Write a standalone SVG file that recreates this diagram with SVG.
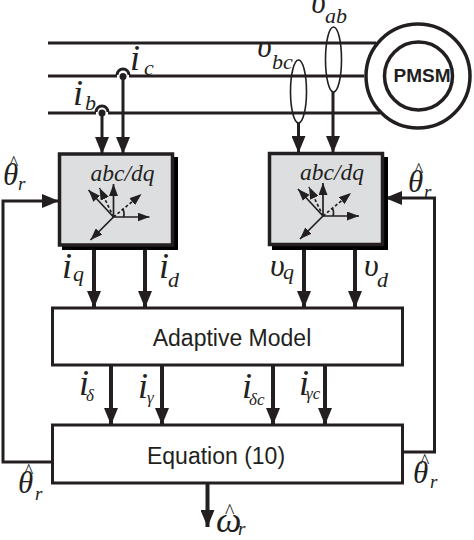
<svg xmlns="http://www.w3.org/2000/svg" width="474" height="540" viewBox="0 0 474 540">
<style>
.w{fill:none;stroke:#231f20;stroke-width:3}
.t{fill:none;stroke:#231f20;stroke-width:4}
.ax{fill:none;stroke:#231f20;stroke-width:1.7}
.d{stroke-dasharray:3 2.2}
.h{fill:#231f20}
.box{fill:#fff;stroke:#231f20;stroke-width:3}
.g{fill:#dcdee0;stroke:#231f20;stroke-width:3.5}
.s{fill:#000}
.e{fill:none;stroke:#231f20;stroke-width:1.6}
text{font-family:"Liberation Serif",serif;font-style:italic;fill:#231f20}
.b{font-size:36px}.u{font-size:32px}.th{font-size:31px}.m{font-size:22px}.r{font-size:19px}.n{font-size:17px}.abc{font-size:23.500px}
.hat{font-size:20px;font-style:normal}
.l{font-family:"Liberation Sans",sans-serif;font-style:normal;font-size:23px}
</style>
<defs>
<marker id="ah" markerUnits="userSpaceOnUse" markerWidth="17" markerHeight="14" refX="17" refY="7" orient="auto" viewBox="0 0 17 14"><path d="M0 0L17 7L0 14Z" class="h"/></marker>
<marker id="as" markerUnits="userSpaceOnUse" markerWidth="12" markerHeight="9" refX="12" refY="4.500" orient="auto" viewBox="0 0 12 9"><path d="M0 0L12 4.500L0 9Z" class="h"/></marker>
<g id="axes">
<path class="ax" d="M0 0H36" marker-end="url(#as)"/>
<path class="ax" d="M0 0V-33" marker-end="url(#as)"/>
<path class="ax" d="M0 0L-25 -27" marker-end="url(#as)"/>
<path class="ax" d="M0 0L-23 23" marker-end="url(#as)"/>
<path class="ax d" d="M0 0L28 -23" marker-end="url(#as)"/>
<path class="ax d" d="M0 0L-14 -29" marker-end="url(#as)"/>
<path class="ax" d="M9 -8Q11.500 -5 10 0"/>
</g>
</defs>
<g id="connectors">
<path class="w" d="M48 43H376"/>
<path class="w" d="M48 76H117M129 76H364"/>
<path class="w" d="M48 113H96M108 113H380"/>
<path class="w" d="M117 75A6 6 0 0 1 129 75M96 112A6 6 0 0 1 108 112"/>
<path class="w" d="M123 76V154" marker-end="url(#ah)"/>
<path class="w" d="M102 113V154" marker-end="url(#ah)"/>
<path class="w" d="M298.500 123V153" marker-end="url(#ah)"/>
<path class="w" d="M333 92V153" marker-end="url(#ah)"/>
<path class="t" d="M94 247V308" marker-end="url(#ah)"/>
<path class="t" d="M145 247V308" marker-end="url(#ah)"/>
<path class="t" d="M304 247V308" marker-end="url(#ah)"/>
<path class="t" d="M355 247V308" marker-end="url(#ah)"/>
<path class="t" d="M111 365V425" marker-end="url(#ah)"/>
<path class="t" d="M162 365V425" marker-end="url(#ah)"/>
<path class="t" d="M273 365V425" marker-end="url(#ah)"/>
<path class="t" d="M325 365V425" marker-end="url(#ah)"/>
<path class="t" d="M207.500 483V527" marker-end="url(#ah)"/>
<path class="w" d="M52 462H3V201H59" marker-end="url(#ah)"/>
<path class="w" d="M403 452H434.500V198H385" marker-end="url(#ah)"/>
<circle class="h" cx="123" cy="76.500" r="3.500"/>
<circle class="h" cx="102" cy="113" r="3.500"/>
</g>
<g id="pmsm">
<circle cx="418" cy="76" r="52" fill="#fff" stroke="#231f20" stroke-width="3.500"/>
<circle cx="418.500" cy="76" r="34" fill="#fff" stroke="#231f20" stroke-width="3.500"/>
<text x="422" y="82" text-anchor="middle" style="font-family:'Liberation Sans',sans-serif;font-style:normal;font-weight:bold;font-size:19px">PMSM</text>
</g>
<g id="sense-ab"><ellipse class="e" cx="333.500" cy="59.500" rx="8" ry="32.500"/></g>
<g id="sense-bc"><ellipse class="e" cx="298.500" cy="91.500" rx="8" ry="31.500"/></g>
<g id="abcdq-left">
<rect class="s" x="62" y="157" width="116" height="93"/>
<rect class="g" x="59.500" y="154" width="113" height="91"/>
<text class="abc" x="90.500" y="181">abc/dq</text>
<use href="#axes" x="113.500" y="217"/>
</g>
<g id="abcdq-right">
<rect class="s" x="272" y="157" width="116" height="93"/>
<rect class="g" x="269.500" y="153.500" width="113" height="91"/>
<text class="abc" x="300" y="180">abc/dq</text>
<use href="#axes" x="323" y="216"/>
</g>
<g id="adaptive-model">
<rect class="box" x="52.500" y="308" width="350" height="57"/>
<text class="l" x="232" y="346" text-anchor="middle">Adaptive Model</text>
</g>
<g id="equation">
<rect class="box" x="52.500" y="425" width="350" height="58"/>
<text class="l" x="216" y="464" text-anchor="middle">Equation (10)</text>
</g>
<g id="labels">
<text class="b" x="130" y="70">i</text><text class="m" x="144" y="75">c</text>
<text class="b" x="73" y="105">i</text><text class="m" x="85" y="110">b</text>
<text class="u" x="311" y="13">υ</text><text class="m" x="325" y="22.500">ab</text>
<text class="u" x="257" y="57">υ</text><text class="m" x="272" y="69">bc</text>
<text class="th" x="3" y="185">θ<tspan class="hat" x="9" y="170">^</tspan></text><text class="r" x="18" y="190">r</text>
<text class="th" x="408" y="192">θ<tspan class="hat" x="414" y="177">^</tspan></text><text class="r" x="424" y="198">r</text>
<text class="b" x="62" y="278">i</text><text class="m" x="73" y="281">q</text>
<text class="b" x="159" y="278">i</text><text class="m" x="168" y="287">d</text>
<text class="u" x="270" y="276">υ</text><text class="m" x="283" y="279">q</text>
<text class="u" x="364" y="276">υ</text><text class="m" x="377" y="287">d</text>
<text class="b" x="79" y="395">i</text><text class="n" x="86" y="401">δ</text>
<text class="b" x="138" y="398">i</text><text class="n" x="147" y="403">γ</text>
<text class="b" x="242" y="398">i</text><text class="n" x="249" y="405">δc</text>
<text class="b" x="299" y="395">i</text><text class="n" x="306" y="399">γc</text>
<text class="th" x="18" y="493">θ<tspan class="hat" x="24" y="478">^</tspan></text><text class="r" x="35" y="500">r</text>
<text class="th" x="413" y="483">θ<tspan class="hat" x="420" y="468">^</tspan></text><text class="r" x="430" y="488">r</text>
<text class="b" x="216" y="532">ω<tspan class="hat" x="225" y="518">^</tspan></text><text class="r" x="238" y="535">r</text>
</g>
</svg>
